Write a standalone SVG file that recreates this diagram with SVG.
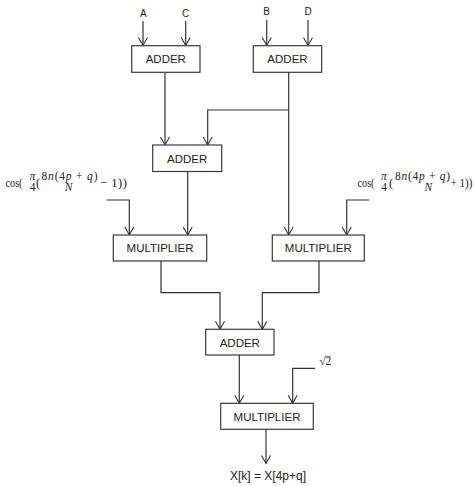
<svg xmlns="http://www.w3.org/2000/svg" width="474" height="486" viewBox="0 0 474 486">
<style>
.box{fill:#fff;stroke:#3a3a3a;stroke-width:1.2}
.lbl{font-family:"Liberation Sans",Arial,sans-serif;font-size:11.5px;fill:#222;text-anchor:middle}
.in{font-family:"Liberation Sans",Arial,sans-serif;font-size:10px;fill:#222;text-anchor:middle}
.wire{fill:none;stroke:#333;stroke-width:1.2}
.m{font-family:"Liberation Serif","Times New Roman",serif;font-size:11.5px;fill:#222}
.big{font-size:12.5px}
.i{font-style:italic}
</style>
<defs>
<marker id="arr" markerUnits="userSpaceOnUse" markerWidth="12" markerHeight="12" viewBox="-10 -6 12 12" refX="0" refY="0" orient="auto">
<path d="M-8,-4.5 L0,0 L-8,4.5" fill="none" stroke="#333" stroke-width="1.1"/>
</marker>
</defs>
<rect width="474" height="486" fill="#fff"/>
<g id="connectors">
<path class="wire" d="M143,21 V45.5" marker-end="url(#arr)"/>
<path class="wire" d="M185.7,21 V45.5" marker-end="url(#arr)"/>
<path class="wire" d="M266.7,20 V45.5" marker-end="url(#arr)"/>
<path class="wire" d="M308,20 V45.5" marker-end="url(#arr)"/>
<path class="wire" d="M165,72.5 V145" marker-end="url(#arr)"/>
<path class="wire" d="M288.7,110 H207.7 V145" marker-end="url(#arr)"/>
<path class="wire" d="M288.7,72.5 V235" marker-end="url(#arr)"/>
<path class="wire" d="M187.7,171.5 V235" marker-end="url(#arr)"/>
<path class="wire" d="M106.7,200 H129.3 V235" marker-end="url(#arr)"/>
<path class="wire" d="M369.3,200 H346.7 V235" marker-end="url(#arr)"/>
<path class="wire" d="M161,261 V292.7 H220 V329.3" marker-end="url(#arr)"/>
<path class="wire" d="M319,261 V292.7 H262.3 V329.3" marker-end="url(#arr)"/>
<path class="wire" d="M239.3,355 V403.3" marker-end="url(#arr)"/>
<path class="wire" d="M315,368.3 H292.7 V403.3" marker-end="url(#arr)"/>
<path class="wire" d="M266,429.3 V463.5" marker-end="url(#arr)"/>
</g>
<g id="inputs">
<text class="in" x="143.3" y="17">A</text>
<text class="in" x="185.7" y="17">C</text>
<text class="in" x="266.7" y="15">B</text>
<text class="in" x="308" y="15">D</text>
</g>
<g id="adder1"><rect class="box" x="131.7" y="45.7" width="68.3" height="26.6"/><text class="lbl" x="165.8" y="63.2">ADDER</text></g>
<g id="adder2"><rect class="box" x="253.3" y="45.7" width="68.4" height="26.6"/><text class="lbl" x="287.5" y="63.2">ADDER</text></g>
<g id="adder3"><rect class="box" x="152.7" y="145" width="69" height="26.5"/><text class="lbl" x="187.2" y="162.5">ADDER</text></g>
<g id="mult1"><rect class="box" x="113.3" y="235" width="93.4" height="26"/><text class="lbl" x="160" y="252.3">MULTIPLIER</text></g>
<g id="mult2"><rect class="box" x="272.3" y="235" width="92" height="26"/><text class="lbl" x="318.3" y="252.3">MULTIPLIER</text></g>
<g id="adder4"><rect class="box" x="205.7" y="329.3" width="68.3" height="25.7"/><text class="lbl" x="239.8" y="346.5">ADDER</text></g>
<g id="mult3"><rect class="box" x="220.7" y="403.3" width="92.6" height="26"/><text class="lbl" x="267" y="420.6">MULTIPLIER</text></g>
<g id="coefLeft">
<text class="m big" x="5.5" y="186.5" textLength="17" lengthAdjust="spacingAndGlyphs">cos(</text>
<text class="m i" x="32.5" y="179.5" text-anchor="middle">π</text>
<text class="m" x="32.5" y="191" text-anchor="middle">4</text>
<text class="m big" x="36" y="186.5">(</text>
<text class="m" x="41.5" y="179.5" textLength="56" lengthAdjust="spacing">8<tspan class="i">n</tspan>(4<tspan class="i">p</tspan> + <tspan class="i">q</tspan>)</text>
<text class="m i" x="68.5" y="191" text-anchor="middle">N</text>
<text class="m big" x="100" y="186.5" textLength="27" lengthAdjust="spacing">− 1))</text>
</g>
<g id="coefRight">
<text class="m big" x="357.5" y="186.5" textLength="17" lengthAdjust="spacingAndGlyphs">cos(</text>
<text class="m i" x="384" y="179.5" text-anchor="middle">π</text>
<text class="m" x="384" y="191" text-anchor="middle">4</text>
<text class="m big" x="389" y="186.5">(</text>
<text class="m" x="395" y="179.5" textLength="55" lengthAdjust="spacing">8<tspan class="i">n</tspan>(4<tspan class="i">p</tspan> + <tspan class="i">q</tspan>)</text>
<text class="m i" x="428.3" y="191" text-anchor="middle">N</text>
<text class="m big" x="450.5" y="186.5" textLength="22" lengthAdjust="spacingAndGlyphs">+ 1))</text>
</g>
<g id="sqrt2">
<text class="m" x="319.3" y="365">√2</text>
<line x1="325" y1="356.3" x2="331" y2="356.3" stroke="#222" stroke-width="0.6"/>
</g>
<g id="output">
<text class="lbl" x="268" y="480" style="font-size:12px">X[k] = X[4p+q]</text>
</g>
</svg>
